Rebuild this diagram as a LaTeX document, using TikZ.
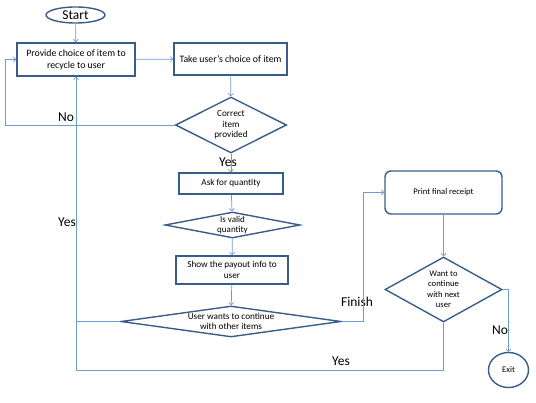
\documentclass[tikz,border=0pt]{standalone}
\usepackage{fontspec}
\setmainfont{Carlito}
\usepackage{xcolor}
\usepackage{tikz}
\usetikzlibrary{shapes.geometric,arrows.meta}
\definecolor{boxblue}{RGB}{56,93,138}
\definecolor{lineblue}{RGB}{110,155,210}

\begin{document}
\begin{tikzpicture}[
    x=1pt, y=-1pt,
    every node/.style={
        align=center,
        font=\fontsize{9.2}{10.5}\selectfont,
        inner sep=0pt
    },
    box/.style={
        draw=boxblue,
        line width=1.4pt,
        rectangle
    },
    rbox/.style={
        box,
        rounded corners=6pt
    },
    decision/.style={
        draw=boxblue,
        line width=1.4pt,
        diamond,
        inner sep=-6pt
    },
    terminal/.style={
        draw=boxblue,
        line width=1.4pt,
        ellipse
    },
    tag/.style={
        font=\fontsize{13.5}{15}\selectfont
    },
    conn/.style={
        draw=lineblue,
        line width=0.7pt,
        -{Straight Barb[length=2.5pt,width=5pt]}
    },
    plain/.style={
        draw=lineblue,
        line width=0.7pt
    }
]
\useasboundingbox (0,0) rectangle (536,403);

% Nodes
\node[terminal, minimum width=59pt, minimum height=16pt, font=\fontsize{13.5}{15}\selectfont] (start) at (75.5,15) {Start};
\node[box, minimum width=118pt, minimum height=33pt, font=\fontsize{9.8}{12}\selectfont] (provide) at (76,59.5) {Provide choice of item to\\recycle to user};
\node[box, minimum width=113pt, minimum height=32pt, font=\fontsize{9.8}{12}\selectfont] (take) at (230.5,59) {Take user's choice of item};
\node[decision, shape aspect=2, minimum width=111pt, minimum height=56pt] (correct) at (231,125) {Correct\\item\\provided};
\node[box, minimum width=104pt, minimum height=21pt] (ask) at (231,183.5) {Ask for quantity};
\node[decision, shape aspect=5.2, minimum width=135pt, minimum height=26pt, font=\fontsize{9}{9.5}\selectfont] (valid) at (232.5,225) {Is valid\\quantity};
\node[box, minimum width=112pt, minimum height=28pt, font=\fontsize{9.2}{11}\selectfont] (payout) at (232,270) {Show the payout info to\\user};
\node[decision, shape aspect=7, minimum width=220pt, minimum height=31pt, font=\fontsize{9.2}{10.5}\selectfont] (more) at (231,321.5) {User wants to continue\\with other items};
\node[rbox, minimum width=117pt, minimum height=43pt, font=\fontsize{8.6}{10}\selectfont] (receipt) at (443.5,192.5) {Print final receipt};
\node[decision, shape aspect=1.8, minimum width=117pt, minimum height=65pt, font=\fontsize{8.6}{10.5}\selectfont] (nextuser) at (443.5,289.5) {Want to\\continue\\with next\\user};
\node[terminal, minimum width=40pt, minimum height=35pt, font=\fontsize{8.6}{10}\selectfont] (exit) at (508.5,370) {Exit};

% Labels
\node[tag] (nocorrect) at (66,117) {No};
\node[tag] (yescorrect) at (228,162) {Yes};
\node[tag] (yesmore) at (67,222) {Yes};
\node[tag] (finish) at (357,302) {Finish};
\node[tag] (nonext) at (500,330) {No};
\node[tag] (yesnext) at (341,361) {Yes};

% Rails
\coordinate (leftrail) at (5,0);
\coordinate (finishrail) at (363,0);
\coordinate (bottomrail) at (0,370.5);

% Connections
\draw[conn] (start) -- (provide);
\draw[conn] (provide) -- (take);
\draw[conn] (take) -- (correct);
\draw[conn] (correct.west) -- (correct.west -| leftrail) |- (provide.west);
\draw[conn] (correct) -- (ask);
\draw[conn] (ask) -- (valid);
\draw[conn] (valid) -- (payout);
\draw[conn] (payout) -- (more);
\draw[plain] (more.west) -- (more.west -| provide.south);
\draw[conn] (more.east) -- (more.east -| finishrail) |- (receipt.west);
\draw[conn] (receipt) -- (nextuser);
\draw[conn] (nextuser.east) -| (exit.north);
\draw[conn] (nextuser.south) -- (nextuser.south |- bottomrail) -| (provide.south);

\end{tikzpicture}
\end{document}
